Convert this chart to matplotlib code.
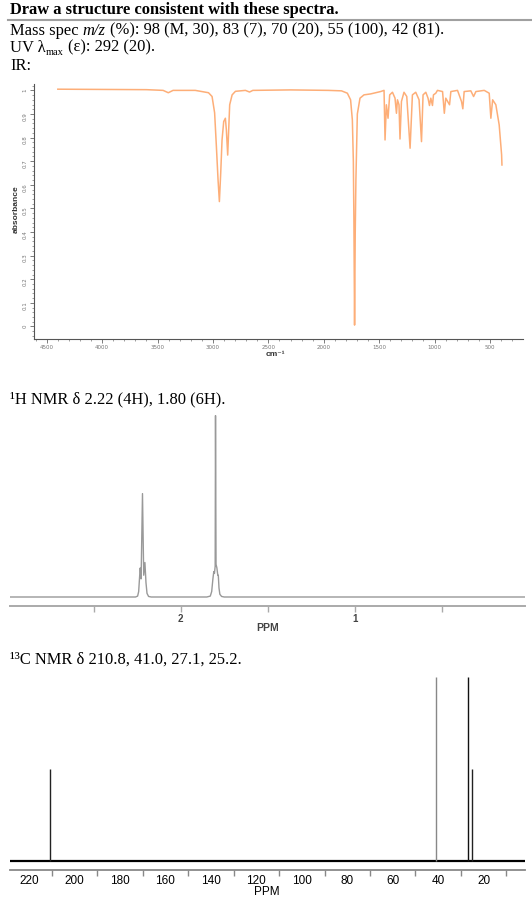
import matplotlib
matplotlib.use('Agg')
import matplotlib.pyplot as plt
from matplotlib.lines import Line2D
from matplotlib.ticker import MultipleLocator, FuncFormatter

W, H = 532, 907

# header text
title = 'Draw a structure consistent with these spectra.'
mass_runs = [('Mass spec', {}), (' ', None), ('m/z', {'style': 'italic'}), (' ', None),
             ('(%): 98 (M, 30), 83 (7), 70 (20), 55 (100), 42 (81).', {})]
uv_runs = [('UV λ', {}), ('max', {'fontsize': 7.5, 'dy': 3}), (' ', None),
           ('(ε): 292 (20).', {})]
ir_title = 'IR:'
h_title = '¹H NMR δ 2.22 (4H), 1.80 (6H).'
c_title = '¹³C NMR δ 210.8, 41.0, 27.1, 25.2.'

# IR trace (cm-1, absorbance)
ir_wavenumber = [4400, 3600, 3450, 3403, 3360, 3160, 3040, 3008, 2985, 2969, 2954, 2942,
                 2930, 2918, 2903, 2888, 2879, 2867, 2858, 2849, 2827, 2797, 2707, 2670,
                 2640, 2300, 1960, 1840, 1787, 1758, 1742, 1733, 1728, 1722, 1716, 1710,
                 1697, 1673, 1637, 1577, 1487, 1456, 1447, 1435, 1420, 1405, 1380, 1357,
                 1344, 1335, 1321, 1312, 1299, 1276, 1251, 1221, 1200, 1170, 1140, 1118,
                 1104, 1079, 1059, 1046, 1034, 1019, 1010, 989, 974, 928, 912, 899, 865,
                 853, 793, 757, 745, 733, 673, 648, 627, 552, 507, 492, 476, 447, 417,
                 395, 392]
ir_absorbance = [1.005, 1.003, 1.0, 0.99, 1.0, 1.0, 0.99, 0.974, 0.905, 0.762, 0.621, 0.529,
                 0.65, 0.79, 0.868, 0.882, 0.833, 0.726, 0.833, 0.939, 0.981, 0.996, 1.0, 0.993,
                 1.0, 1.002, 1.0, 0.998, 0.988, 0.96, 0.875, 0.7, 0.45, 0.006, 0.4, 0.62,
                 0.9, 0.967, 0.981, 0.985, 0.995, 1.0, 0.79, 0.939, 0.882, 0.981, 0.992, 0.967,
                 0.903, 0.96, 0.939, 0.794, 0.953, 0.992, 0.974, 0.755, 0.981, 0.992, 0.96, 0.783,
                 0.981, 0.992, 0.967, 0.936, 0.967, 0.936, 0.981, 0.988, 1.0, 0.995, 0.903, 0.967, 0.939,
                 0.995, 1.0, 0.953, 0.922, 0.995, 0.998, 0.974, 0.995, 1.0, 0.988, 0.882, 0.96, 0.939, 0.854,
                 0.727, 0.684]

# 1H NMR trace (ppm, relative intensity)
h_ppm = [2.98, 2.26, 2.248, 2.242, 2.236, 2.233, 2.228, 2.22, 2.213, 2.206, 2.2, 2.194, 2.185, 2.17,
         1.85, 1.83, 1.822, 1.815, 1.81, 1.806, 1.802, 1.8, 1.797, 1.792, 1.787, 1.784, 1.78, 1.775,
         1.765, 1.75, 0.02]
h_intensity = [0, 0, 0.5, 3, 12, 16, 10, 57, 12, 19, 8, 2, 0.3, 0,
               0, 0.5, 3, 10, 14, 13, 17, 100, 18, 16, 12, 12, 5, 1.5,
               0.3, 0, 0]
h_ticks = [2.5, 2, 1.5, 1, 0.5]
h_ticklabels = ['', '2', '', '1', '']

# 13C NMR lines
c_shift = [210.8, 41.0, 27.1, 25.2]
c_height = [50, 100, 100, 50]
c_labels = [220, 200, 180, 160, 140, 120, 100, 80, 60, 40, 20]
c_minor = [210, 190, 170, 150, 130, 110, 90, 70, 50, 30, 10]


fig = plt.figure(figsize=(W / 100, H / 100), dpi=100)
renderer = fig.canvas.get_renderer()


def px_axes(x0, x1, y0, y1):
    # box given in pixels from the top left corner
    return fig.add_axes([x0 / W, 1 - y1 / H, (x1 - x0) / W, (y1 - y0) / H])


def px_text(x, y, s, **kw):
    return fig.text(x / W, 1 - y / H, s, **kw)


serif = dict(family='Liberation Serif', fontsize=11.9, va='baseline')


def text_width(s, **kw):
    t = px_text(0, 0, s, **kw)
    w = t.get_window_extent(renderer).width
    t.remove()
    return w


space = text_width('a a', **serif) - text_width('aa', **serif)


def draw_runs(x, y, runs):
    # pieces of one line in different styles, laid left to right
    for s, kw in runs:
        if kw is None:
            x += space
            continue
        opts = dict(serif)
        opts.update(kw)
        dy = opts.pop('dy', 0)
        t = px_text(x, y + dy, s, **opts)
        x += t.get_window_extent(renderer).width


px_text(10, 14.3, title, fontweight='bold', **serif)
fig.add_artist(Line2D([8 / W, 1], [1 - 19.5 / H] * 2, color='#a0a0a0', lw=1.5))
draw_runs(10, 34.8, mass_runs)
draw_runs(10, 51.8, uv_runs)
px_text(10, 70, ir_title, **serif)
px_text(10, 403.5, h_title, **serif)
px_text(10, 664, c_title, **serif)

# IR
ax = px_axes(34, 523, 84, 339)
ax.plot(ir_wavenumber, ir_absorbance, color='#fdae78', lw=1.1)
ax.set_xlim(4615, 202)
ax.set_ylim(-0.053, 1.027)
for s in ['top', 'right']:
    ax.spines[s].set_visible(False)
for s in ['left', 'bottom']:
    ax.spines[s].set_color('#555555')
    ax.spines[s].set_linewidth(0.8)
ax.xaxis.set_major_locator(MultipleLocator(500))
ax.xaxis.set_minor_locator(MultipleLocator(100))
ax.yaxis.set_major_locator(MultipleLocator(0.1))
ax.yaxis.set_minor_locator(MultipleLocator(0.02))
ax.yaxis.set_major_formatter(FuncFormatter(lambda v, _: f'{v:g}'))
ax.tick_params(which='major', length=3, width=0.6, color='#666666', labelsize=4,
               labelcolor='#777777', pad=1.5)
ax.tick_params(which='minor', length=1.6, width=0.5, color='#777777')
ax.tick_params(axis='y', labelrotation=90)
px_text(16, 209, 'absorbance', rotation=90, fontsize=6, fontweight='bold', color='#333333',
        ha='center', va='center', family=['Liberation Sans', 'DejaVu Sans'])
px_text(275, 355, 'cm⁻¹', fontsize=6, fontweight='bold', color='#333333',
        ha='center', va='center', family=['Liberation Sans', 'DejaVu Sans'])

# 1H NMR
base_h, axis_h, scale_h = 597, 606, 1.814
ax = px_axes(10, 525, 410, axis_h)
ax.plot(h_ppm, h_intensity, color='#999999', lw=1)
ax.set_xlim(2.982, 0.02)
ax.set_ylim(-(axis_h - base_h) / scale_h, (base_h - 410) / scale_h)
for s in ['top', 'right', 'left']:
    ax.spines[s].set_visible(False)
ax.spines['bottom'].set_color('#aaaaaa')
ax.spines['bottom'].set_linewidth(1.4)
ax.set_yticks([])
ax.set_xticks(h_ticks, h_ticklabels)
ax.tick_params(axis='x', length=4, width=1, color='#aaaaaa', labelsize=7,
               labelcolor='#444444', pad=2)
for t in ax.get_xticklabels():
    t.set_fontweight('bold')
    t.set_family('Liberation Sans')
px_text(267.5, 628, 'PPM', fontsize=7.5, fontweight='bold', color='#444444',
        ha='center', va='center', family='Liberation Sans')

# 13C NMR
base_c, axis_c, scale_c = 860.5, 869.5, 1.835
ax = px_axes(10, 525, 670, axis_c)
ax.axhline(0, color='black', lw=1.6)
ax.vlines(c_shift, 0, c_height, colors=['#222222', '#888888', '#111111', '#222222'], lw=1)
ax.set_xlim(228.4, 1.8)
ax.set_ylim(-(axis_c - base_c) / scale_c, (base_c - 670) / scale_c)
for s in ['top', 'right', 'left']:
    ax.spines[s].set_visible(False)
ax.spines['bottom'].set_color('#888888')
ax.spines['bottom'].set_linewidth(1.3)
ax.set_yticks([])
ax.set_xticks(c_labels, [str(v) for v in c_labels])
ax.set_xticks(c_minor, minor=True)
ax.tick_params(axis='x', which='major', length=0, labelsize=8.5, labelcolor='black', pad=4)
ax.tick_params(axis='x', which='minor', length=4, width=1, color='#888888')
for t in ax.get_xticklabels():
    t.set_family('Liberation Sans')
px_text(267, 892, 'PPM', fontsize=8.5, color='black', ha='center', va='center',
        family='Liberation Sans')

fig.savefig('out.png', dpi=100)
